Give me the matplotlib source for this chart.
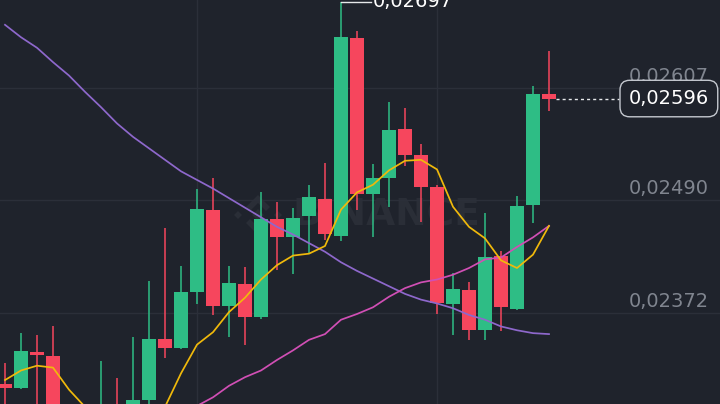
import numpy as np
import matplotlib
matplotlib.use("Agg")
import matplotlib.pyplot as plt
from matplotlib.patches import Polygon

# candles, oldest first
opens = [0.02298, 0.02294, 0.02331, 0.02327, 0.02255, 0.02240, 0.02245, 0.02268, 0.02262,
         0.02281, 0.02345, 0.02336, 0.02394, 0.02480, 0.02379, 0.02402, 0.02368, 0.02470,
         0.02451, 0.02473, 0.02491, 0.02452, 0.02659, 0.02496, 0.02513, 0.02564, 0.02537,
         0.02504, 0.02381, 0.02396, 0.02354, 0.02432, 0.02376, 0.02485, 0.02601]
highs = [0.02320, 0.02351, 0.02349, 0.02358, 0.02270, 0.02272, 0.02322, 0.02304, 0.02347,
         0.02405, 0.02461, 0.02421, 0.02502, 0.02513, 0.02421, 0.02420, 0.02498, 0.02488,
         0.02482, 0.02506, 0.02529, 0.02697, 0.02667, 0.02528, 0.02592, 0.02586, 0.02549,
         0.02506, 0.02414, 0.02404, 0.02476, 0.02437, 0.02494, 0.02609, 0.02646]
lows = [0.02260, 0.02293, 0.02262, 0.02240, 0.02235, 0.02232, 0.02238, 0.02248, 0.02255,
        0.02276, 0.02325, 0.02334, 0.02381, 0.02370, 0.02347, 0.02339, 0.02366, 0.02417,
        0.02413, 0.02435, 0.02448, 0.02447, 0.02480, 0.02451, 0.02483, 0.02526, 0.02467,
        0.02371, 0.02349, 0.02344, 0.02344, 0.02353, 0.02375, 0.02466, 0.02583]
closes = [0.02294, 0.02332, 0.02328, 0.02255, 0.02245, 0.02262, 0.02265, 0.02255, 0.02281,
          0.02345, 0.02335, 0.02394, 0.02481, 0.02379, 0.02403, 0.02368, 0.02470, 0.02451,
          0.02471, 0.02493, 0.02455, 0.02660, 0.02496, 0.02513, 0.02563, 0.02537, 0.02504,
          0.02382, 0.02397, 0.02354, 0.02431, 0.02378, 0.02484, 0.02601, 0.02596]

# moving averages
ma7 = [0.02302, 0.02312, 0.02317, 0.02315, 0.02292, 0.02274, 0.02260, 0.02250, 0.02252,
       0.02260, 0.02274, 0.02309, 0.02339, 0.02352, 0.02373, 0.02388, 0.02407, 0.02422,
       0.02432, 0.02434, 0.02442, 0.02480, 0.02498, 0.02506, 0.02521, 0.02531, 0.02532,
       0.02522, 0.02483, 0.02462, 0.02450, 0.02427, 0.02419, 0.02433, 0.02463]
ma25 = [np.nan] * 11 + [0.02267, 0.02275, 0.02284, 0.02296, 0.02305, 0.02312, 0.02323,
                        0.02333, 0.02344, 0.02350, 0.02365, 0.02371, 0.02378, 0.02389,
                        0.02398, 0.02404, 0.02407, 0.02412, 0.02419, 0.02428, 0.02430,
                        0.02441, 0.02451, 0.02463]
ma99 = [0.02673, 0.02660, 0.02649, 0.02634, 0.02620, 0.02603, 0.02587, 0.02570, 0.02556,
        0.02544, 0.02532, 0.02520, 0.02511, 0.02502, 0.02492, 0.02482, 0.02472, 0.02462,
        0.02454, 0.02445, 0.02436, 0.02425, 0.02416, 0.02408, 0.02400, 0.02392, 0.02386,
        0.02382, 0.02377, 0.02370, 0.02365, 0.02358, 0.02354, 0.02351, 0.02350]

price_ticks = [0.02607, 0.02490, 0.02372]
time_grid = [12, 27]
last_price = 0.02596
high_price = 0.02697

BG = '#1f232c'
GRID = '#2b2f39'
UP = '#2ebd85'
DOWN = '#f6465d'


def fmt(v):
    return f"{v:.5f}".replace('.', ',')


def px_fig(px, py):
    # figure fraction from pixel position (origin top left)
    return px / 720, 1 - py / 404


def draw_watermark(fig):
    col = '#2a2e37'
    cx, cy = 258, 215
    shapes = [
        [(cx, cy - 6), (cx + 6, cy), (cx, cy + 6), (cx - 6, cy)],
        [(cx - 20, cy - 4), (cx - 16, cy), (cx - 20, cy + 4), (cx - 24, cy)],
        [(cx + 20, cy - 4), (cx + 24, cy), (cx + 20, cy + 4), (cx + 16, cy)],
        [(cx - 12, cy - 8), (cx, cy - 20), (cx + 12, cy - 8), (cx + 8, cy - 4), (cx, cy - 12), (cx - 8, cy - 4)],
        [(cx - 12, cy + 8), (cx, cy + 20), (cx + 12, cy + 8), (cx + 8, cy + 4), (cx, cy + 12), (cx - 8, cy + 4)],
    ]
    for s in shapes:
        fig.patches.append(Polygon([px_fig(x, y) for x, y in s], closed=True,
                                   transform=fig.transFigure, fc=col, ec='none', zorder=-2))
    fig.text(*px_fig(292, 216), 'BINANCE', color=col, fontsize=27, fontweight='bold',
             ha='left', va='center', zorder=-2)


def main():
    fig = plt.figure(figsize=(7.2, 4.04), dpi=100, facecolor=BG)
    ax = fig.add_axes([0, 0, 1, 1], facecolor='none')
    ax.set_xlim(-5 / 16, 715 / 16)
    ax.set_ylim(0.022770, 0.026989)
    ax.axis('off')

    for p in price_ticks:
        ax.axhline(p, color=GRID, lw=1, zorder=0)
    for t in time_grid:
        ax.axvline(t, color=GRID, lw=1, zorder=0)

    draw_watermark(fig)

    o = np.array(opens)
    c = np.array(closes)
    x = np.arange(len(o))
    colors = [UP if cc >= oo else DOWN for oo, cc in zip(o, c)]
    ax.vlines(x, lows, highs, colors=colors, lw=1.1, zorder=2)
    ax.bar(x, c - o, bottom=o, width=0.86, color=colors, zorder=3)

    ax.plot(x, ma99, color='#8e68cc', lw=1.25, zorder=4)
    ax.plot(x, ma25, color='#d14fb5', lw=1.25, zorder=4)
    ax.plot(x, ma7, color='#f0b90b', lw=1.25, zorder=4)

    for p in price_ticks:
        ax.annotate(fmt(p), xy=(709 / 720, p), xycoords=('axes fraction', 'data'),
                    xytext=(0, 8), textcoords='offset points', ha='right', va='center',
                    color='#80858f', fontsize=14, zorder=5)

    # last price marker
    n = len(o) - 1
    ax.plot([n + 0.45, (619 - 5) / 16], [last_price, last_price], color='#e6e8ea',
            lw=1, dashes=(2.2, 2.2), zorder=5)
    ax.text(709 / 720, last_price, fmt(last_price), transform=ax.get_yaxis_transform(),
            ha='right', va='center', color='white', fontsize=14, zorder=6,
            bbox=dict(boxstyle='round,pad=0.45,rounding_size=0.5', fc=BG, ec='#c4c8cf', lw=1))

    # highest price marker
    hi = int(np.argmax(highs))
    ax.plot([hi, (371 - 5) / 16], [high_price, high_price], color='#e6e8ea', lw=1, zorder=5)
    ax.text((373 - 5) / 16, high_price, fmt(high_price), ha='left', va='center',
            color='white', fontsize=14, zorder=6)

    fig.savefig('out.png', dpi=100, facecolor=BG)


if __name__ == "__main__":
    main()
